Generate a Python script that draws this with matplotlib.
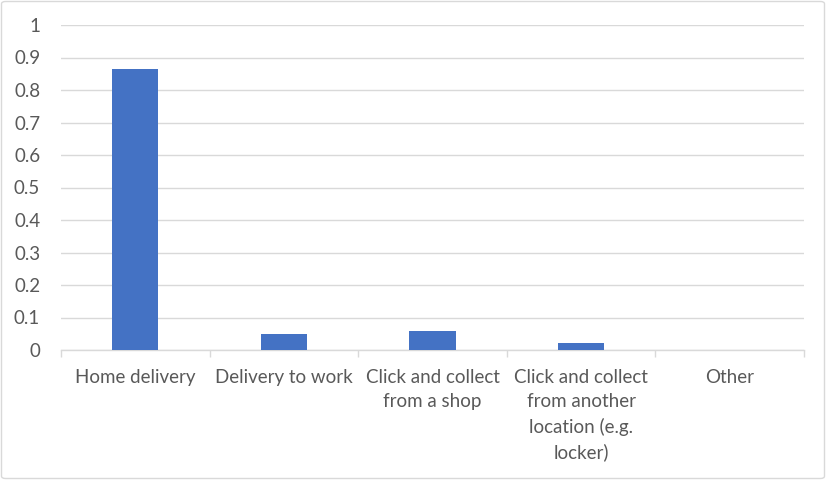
import matplotlib
matplotlib.use("Agg")
import matplotlib.pyplot as plt
from matplotlib.patches import FancyBboxPatch

categories = ["Home delivery", "Delivery to work", "Click and collect\nfrom a shop",
              "Click and collect\nfrom another\nlocation (e.g.\nlocker)", "Other"]
values = [0.864, 0.048, 0.058, 0.021, 0.0]
yticks = [0, 0.1, 0.2, 0.3, 0.4, 0.5, 0.6, 0.7, 0.8, 0.9, 1]
ytick_labels = ["0", "0.1", "0.2", "0.3", "0.4", "0.5", "0.6", "0.7", "0.8", "0.9", "1"]

plt.rcParams['font.family'] = ['Lato', 'DejaVu Sans']
text_color = "#595959"
grid_color = "#D9D9D9"

fig = plt.figure(figsize=(8.26, 4.8), dpi=100)
ax = fig.add_axes([61/826, 1-350/480, (804-61)/826, (350-25)/480])

x = list(range(len(categories)))
ax.bar(x, values, width=0.31, color="#4472C4", zorder=3)
ax.set_xlim(-0.5, len(categories)-0.5)
ax.set_ylim(0, 1)
ax.set_yticks(yticks)
ax.set_yticklabels(ytick_labels)
ax.yaxis.grid(True, color=grid_color, linewidth=1, zorder=0)
ax.set_axisbelow(True)

for s in ["top", "right", "left"]:
    ax.spines[s].set_visible(False)
ax.spines["bottom"].set_color(grid_color)
ax.spines["bottom"].set_linewidth(1)

ax.set_xticks([i - 0.5 for i in range(len(categories)+1)], minor=False)
ax.set_xticklabels([""] * (len(categories)+1))
ax.tick_params(axis="x", which="major", length=5, color=grid_color, width=1)
ax.set_xticks(x, minor=True)
ax.set_xticklabels(categories, minor=True, linespacing=1.5, va="top")
ax.tick_params(axis="x", which="minor", length=0, pad=14, labelsize=13.5, labelcolor=text_color)
ax.tick_params(axis="y", length=0, pad=15, labelsize=13.5, labelcolor=text_color)

border = FancyBboxPatch((1.5/826, 1.5/480), 1-3/826, 1-3/480, boxstyle="round,pad=0,rounding_size=0.005",
                        transform=fig.transFigure, fill=False, edgecolor=grid_color, linewidth=1)
fig.patches.append(border)

fig.savefig("out.png", dpi=100)
